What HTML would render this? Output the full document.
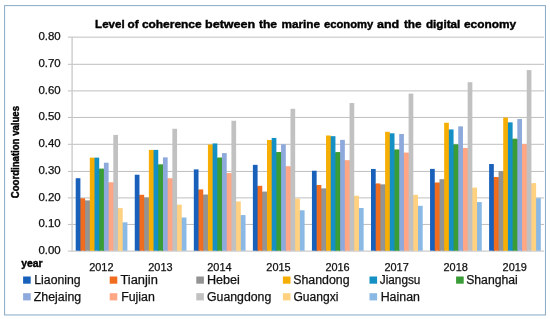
<!DOCTYPE html>
<html lang="en"><head><meta charset="utf-8"><title>Level of coherence between the marine economy and the digital economy</title>
<style>html,body{margin:0;padding:0;background:#fff;}body{width:550px;height:319px;overflow:hidden;}svg{display:block;}text{font-family:"Liberation Sans", sans-serif;fill:#111;stroke:#111;stroke-width:0.25px;}.b{stroke-width:0.4px;fill:#000;stroke:#000}</style></head><body>
<svg width="550" height="319" viewBox="0 0 550 319">
<rect x="0" y="0" width="550" height="319" fill="#fff"/>
<rect x="4.58" y="5.6" width="540.9" height="309.35" fill="#fff" stroke="#8dadc9" stroke-width="1.05"/>
<line x1="67.9" y1="251.10" x2="544.0" y2="251.10" stroke="#bfbfbf" stroke-width="1"/>
<line x1="67.9" y1="224.45" x2="544.0" y2="224.45" stroke="#bfbfbf" stroke-width="1"/>
<line x1="67.9" y1="197.90" x2="544.0" y2="197.90" stroke="#bfbfbf" stroke-width="1"/>
<line x1="67.9" y1="171.45" x2="544.0" y2="171.45" stroke="#bfbfbf" stroke-width="1"/>
<line x1="67.9" y1="144.30" x2="544.0" y2="144.30" stroke="#bfbfbf" stroke-width="1"/>
<line x1="67.9" y1="117.45" x2="544.0" y2="117.45" stroke="#bfbfbf" stroke-width="1"/>
<line x1="67.9" y1="90.90" x2="544.0" y2="90.90" stroke="#bfbfbf" stroke-width="1"/>
<line x1="67.9" y1="64.30" x2="544.0" y2="64.30" stroke="#bfbfbf" stroke-width="1"/>
<line x1="67.9" y1="37.15" x2="544.0" y2="37.15" stroke="#bfbfbf" stroke-width="1"/>
<line x1="72.1" y1="36.8" x2="72.1" y2="251.6" stroke="#cccccc" stroke-width="1.4"/>
<rect x="75.70" y="178.21" width="4.70" height="72.49" fill="#1860ba"/>
<rect x="79.40" y="198.75" width="2.00" height="51.95" fill="#1860ba"/>
<rect x="80.40" y="198.25" width="4.70" height="52.45" fill="#f06c1e"/>
<rect x="84.10" y="200.89" width="2.00" height="49.81" fill="#f06c1e"/>
<rect x="85.10" y="200.39" width="4.70" height="50.31" fill="#939393"/>
<rect x="88.80" y="200.89" width="2.00" height="49.81" fill="#939393"/>
<rect x="89.80" y="157.63" width="4.70" height="93.07" fill="#f6ae04"/>
<rect x="93.50" y="158.13" width="2.00" height="92.57" fill="#f6ae04"/>
<rect x="94.50" y="157.63" width="4.70" height="93.07" fill="#1590c4"/>
<rect x="98.20" y="169.09" width="2.00" height="81.61" fill="#1590c4"/>
<rect x="99.20" y="168.59" width="4.70" height="82.11" fill="#3a9c36"/>
<rect x="102.90" y="169.09" width="2.00" height="81.61" fill="#3a9c36"/>
<rect x="103.90" y="162.71" width="4.70" height="87.99" fill="#8ea9db"/>
<rect x="107.60" y="182.72" width="2.00" height="67.98" fill="#8ea9db"/>
<rect x="108.60" y="182.22" width="4.70" height="68.48" fill="#ffa685"/>
<rect x="112.30" y="182.72" width="2.00" height="67.98" fill="#ffa685"/>
<rect x="113.30" y="134.91" width="4.70" height="115.79" fill="#c1c1c1"/>
<rect x="117.00" y="208.64" width="2.00" height="42.06" fill="#c1c1c1"/>
<rect x="118.00" y="208.14" width="4.70" height="42.56" fill="#ffd180"/>
<rect x="121.70" y="222.80" width="2.00" height="27.90" fill="#ffd180"/>
<rect x="122.70" y="222.30" width="4.70" height="28.40" fill="#89b9e4"/>
<rect x="134.76" y="174.73" width="4.70" height="75.97" fill="#1860ba"/>
<rect x="138.46" y="195.28" width="2.00" height="55.42" fill="#1860ba"/>
<rect x="139.46" y="194.78" width="4.70" height="55.92" fill="#f06c1e"/>
<rect x="143.16" y="197.95" width="2.00" height="52.75" fill="#f06c1e"/>
<rect x="144.16" y="197.45" width="4.70" height="53.25" fill="#939393"/>
<rect x="147.86" y="197.95" width="2.00" height="52.75" fill="#939393"/>
<rect x="148.86" y="149.88" width="4.70" height="100.82" fill="#f6ae04"/>
<rect x="152.56" y="150.38" width="2.00" height="100.32" fill="#f6ae04"/>
<rect x="153.56" y="149.88" width="4.70" height="100.82" fill="#1590c4"/>
<rect x="157.26" y="164.81" width="2.00" height="85.89" fill="#1590c4"/>
<rect x="158.26" y="164.31" width="4.70" height="86.39" fill="#3a9c36"/>
<rect x="161.96" y="164.81" width="2.00" height="85.89" fill="#3a9c36"/>
<rect x="162.96" y="157.36" width="4.70" height="93.34" fill="#8ea9db"/>
<rect x="166.66" y="178.71" width="2.00" height="71.99" fill="#8ea9db"/>
<rect x="167.66" y="178.21" width="4.70" height="72.49" fill="#ffa685"/>
<rect x="171.36" y="178.71" width="2.00" height="71.99" fill="#ffa685"/>
<rect x="172.36" y="128.77" width="4.70" height="121.93" fill="#c1c1c1"/>
<rect x="176.06" y="205.17" width="2.00" height="45.53" fill="#c1c1c1"/>
<rect x="177.06" y="204.67" width="4.70" height="46.03" fill="#ffd180"/>
<rect x="180.76" y="217.99" width="2.00" height="32.71" fill="#ffd180"/>
<rect x="181.76" y="217.49" width="4.70" height="33.21" fill="#89b9e4"/>
<rect x="193.82" y="169.39" width="4.70" height="81.31" fill="#1860ba"/>
<rect x="197.52" y="189.93" width="2.00" height="60.77" fill="#1860ba"/>
<rect x="198.52" y="189.43" width="4.70" height="61.27" fill="#f06c1e"/>
<rect x="202.22" y="195.01" width="2.00" height="55.69" fill="#f06c1e"/>
<rect x="203.22" y="194.51" width="4.70" height="56.19" fill="#939393"/>
<rect x="206.92" y="195.01" width="2.00" height="55.69" fill="#939393"/>
<rect x="207.92" y="144.53" width="4.70" height="106.17" fill="#f6ae04"/>
<rect x="211.62" y="145.03" width="2.00" height="105.67" fill="#f6ae04"/>
<rect x="212.62" y="143.47" width="4.70" height="107.23" fill="#1590c4"/>
<rect x="216.32" y="158.00" width="2.00" height="92.70" fill="#1590c4"/>
<rect x="217.32" y="157.50" width="4.70" height="93.20" fill="#3a9c36"/>
<rect x="221.02" y="158.00" width="2.00" height="92.70" fill="#3a9c36"/>
<rect x="222.02" y="153.09" width="4.70" height="97.61" fill="#8ea9db"/>
<rect x="225.72" y="173.50" width="2.00" height="77.20" fill="#8ea9db"/>
<rect x="226.72" y="173.00" width="4.70" height="77.70" fill="#ffa685"/>
<rect x="230.42" y="173.50" width="2.00" height="77.20" fill="#ffa685"/>
<rect x="231.42" y="120.75" width="4.70" height="129.95" fill="#c1c1c1"/>
<rect x="235.12" y="201.96" width="2.00" height="48.74" fill="#c1c1c1"/>
<rect x="236.12" y="201.46" width="4.70" height="49.24" fill="#ffd180"/>
<rect x="239.82" y="215.59" width="2.00" height="35.11" fill="#ffd180"/>
<rect x="240.82" y="215.09" width="4.70" height="35.61" fill="#89b9e4"/>
<rect x="252.88" y="164.85" width="4.70" height="85.85" fill="#1860ba"/>
<rect x="256.58" y="186.30" width="2.00" height="64.40" fill="#1860ba"/>
<rect x="257.58" y="185.80" width="4.70" height="64.90" fill="#f06c1e"/>
<rect x="261.28" y="192.07" width="2.00" height="58.63" fill="#f06c1e"/>
<rect x="262.28" y="191.57" width="4.70" height="59.13" fill="#939393"/>
<rect x="265.98" y="192.07" width="2.00" height="58.63" fill="#939393"/>
<rect x="266.98" y="139.99" width="4.70" height="110.71" fill="#f6ae04"/>
<rect x="270.68" y="140.49" width="2.00" height="110.21" fill="#f6ae04"/>
<rect x="271.68" y="137.93" width="4.70" height="112.77" fill="#1590c4"/>
<rect x="275.38" y="152.52" width="2.00" height="98.18" fill="#1590c4"/>
<rect x="276.38" y="152.02" width="4.70" height="98.68" fill="#3a9c36"/>
<rect x="280.08" y="152.52" width="2.00" height="98.18" fill="#3a9c36"/>
<rect x="281.08" y="144.27" width="4.70" height="106.43" fill="#8ea9db"/>
<rect x="284.78" y="166.68" width="2.00" height="84.02" fill="#8ea9db"/>
<rect x="285.78" y="166.18" width="4.70" height="84.52" fill="#ffa685"/>
<rect x="289.48" y="166.68" width="2.00" height="84.02" fill="#ffa685"/>
<rect x="290.48" y="108.80" width="4.70" height="141.90" fill="#c1c1c1"/>
<rect x="294.18" y="199.02" width="2.00" height="51.68" fill="#c1c1c1"/>
<rect x="295.18" y="198.52" width="4.70" height="52.18" fill="#ffd180"/>
<rect x="298.88" y="210.78" width="2.00" height="39.92" fill="#ffd180"/>
<rect x="299.88" y="210.28" width="4.70" height="40.42" fill="#89b9e4"/>
<rect x="311.94" y="170.73" width="4.70" height="79.97" fill="#1860ba"/>
<rect x="315.64" y="185.50" width="2.00" height="65.20" fill="#1860ba"/>
<rect x="316.64" y="185.00" width="4.70" height="65.70" fill="#f06c1e"/>
<rect x="320.34" y="188.86" width="2.00" height="61.84" fill="#f06c1e"/>
<rect x="321.34" y="188.36" width="4.70" height="62.34" fill="#939393"/>
<rect x="325.04" y="188.86" width="2.00" height="61.84" fill="#939393"/>
<rect x="326.04" y="135.50" width="4.70" height="115.20" fill="#f6ae04"/>
<rect x="329.74" y="136.67" width="2.00" height="114.03" fill="#f6ae04"/>
<rect x="330.74" y="136.17" width="4.70" height="114.53" fill="#1590c4"/>
<rect x="334.44" y="152.57" width="2.00" height="98.13" fill="#1590c4"/>
<rect x="335.44" y="152.07" width="4.70" height="98.63" fill="#3a9c36"/>
<rect x="339.14" y="152.57" width="2.00" height="98.13" fill="#3a9c36"/>
<rect x="340.14" y="139.88" width="4.70" height="110.82" fill="#8ea9db"/>
<rect x="343.84" y="160.67" width="2.00" height="90.03" fill="#8ea9db"/>
<rect x="344.84" y="160.17" width="4.70" height="90.53" fill="#ffa685"/>
<rect x="348.54" y="160.67" width="2.00" height="90.03" fill="#ffa685"/>
<rect x="349.54" y="103.03" width="4.70" height="147.67" fill="#c1c1c1"/>
<rect x="353.24" y="196.21" width="2.00" height="54.49" fill="#c1c1c1"/>
<rect x="354.24" y="195.71" width="4.70" height="54.99" fill="#ffd180"/>
<rect x="357.94" y="208.53" width="2.00" height="42.17" fill="#ffd180"/>
<rect x="358.94" y="208.03" width="4.70" height="42.67" fill="#89b9e4"/>
<rect x="371.00" y="168.96" width="4.70" height="81.74" fill="#1860ba"/>
<rect x="374.70" y="183.92" width="2.00" height="66.78" fill="#1860ba"/>
<rect x="375.70" y="183.42" width="4.70" height="67.28" fill="#f06c1e"/>
<rect x="379.40" y="184.85" width="2.00" height="65.85" fill="#f06c1e"/>
<rect x="380.40" y="184.35" width="4.70" height="66.35" fill="#939393"/>
<rect x="384.10" y="184.85" width="2.00" height="65.85" fill="#939393"/>
<rect x="385.10" y="131.79" width="4.70" height="118.91" fill="#f6ae04"/>
<rect x="388.80" y="133.81" width="2.00" height="116.89" fill="#f6ae04"/>
<rect x="389.80" y="133.31" width="4.70" height="117.39" fill="#1590c4"/>
<rect x="393.50" y="149.93" width="2.00" height="100.77" fill="#1590c4"/>
<rect x="394.50" y="149.43" width="4.70" height="101.27" fill="#3a9c36"/>
<rect x="398.20" y="149.93" width="2.00" height="100.77" fill="#3a9c36"/>
<rect x="399.20" y="133.98" width="4.70" height="116.72" fill="#8ea9db"/>
<rect x="402.90" y="153.05" width="2.00" height="97.65" fill="#8ea9db"/>
<rect x="403.90" y="152.55" width="4.70" height="98.15" fill="#ffa685"/>
<rect x="407.60" y="153.05" width="2.00" height="97.65" fill="#ffa685"/>
<rect x="408.60" y="93.60" width="4.70" height="157.10" fill="#c1c1c1"/>
<rect x="412.30" y="195.36" width="2.00" height="55.34" fill="#c1c1c1"/>
<rect x="413.30" y="194.86" width="4.70" height="55.84" fill="#ffd180"/>
<rect x="417.00" y="206.34" width="2.00" height="44.36" fill="#ffd180"/>
<rect x="418.00" y="205.84" width="4.70" height="44.86" fill="#89b9e4"/>
<rect x="430.06" y="168.88" width="4.70" height="81.82" fill="#1860ba"/>
<rect x="433.76" y="182.98" width="2.00" height="67.72" fill="#1860ba"/>
<rect x="434.76" y="182.48" width="4.70" height="68.22" fill="#f06c1e"/>
<rect x="438.46" y="182.98" width="2.00" height="67.72" fill="#f06c1e"/>
<rect x="439.46" y="179.20" width="4.70" height="71.50" fill="#939393"/>
<rect x="443.16" y="179.70" width="2.00" height="71.00" fill="#939393"/>
<rect x="444.16" y="122.78" width="4.70" height="127.92" fill="#f6ae04"/>
<rect x="447.86" y="129.93" width="2.00" height="120.77" fill="#f6ae04"/>
<rect x="448.86" y="129.43" width="4.70" height="121.27" fill="#1590c4"/>
<rect x="452.56" y="144.79" width="2.00" height="105.91" fill="#1590c4"/>
<rect x="453.56" y="144.29" width="4.70" height="106.41" fill="#3a9c36"/>
<rect x="457.26" y="144.79" width="2.00" height="105.91" fill="#3a9c36"/>
<rect x="458.26" y="126.36" width="4.70" height="124.34" fill="#8ea9db"/>
<rect x="461.96" y="148.51" width="2.00" height="102.19" fill="#8ea9db"/>
<rect x="462.96" y="148.01" width="4.70" height="102.69" fill="#ffa685"/>
<rect x="466.66" y="148.51" width="2.00" height="102.19" fill="#ffa685"/>
<rect x="467.66" y="82.19" width="4.70" height="168.51" fill="#c1c1c1"/>
<rect x="471.36" y="188.06" width="2.00" height="62.64" fill="#c1c1c1"/>
<rect x="472.36" y="187.56" width="4.70" height="63.14" fill="#ffd180"/>
<rect x="476.06" y="202.60" width="2.00" height="48.10" fill="#ffd180"/>
<rect x="477.06" y="202.10" width="4.70" height="48.60" fill="#89b9e4"/>
<rect x="489.12" y="164.04" width="4.70" height="86.66" fill="#1860ba"/>
<rect x="492.82" y="177.51" width="2.00" height="73.19" fill="#1860ba"/>
<rect x="493.82" y="177.01" width="4.70" height="73.69" fill="#f06c1e"/>
<rect x="497.52" y="177.51" width="2.00" height="73.19" fill="#f06c1e"/>
<rect x="498.52" y="171.07" width="4.70" height="79.63" fill="#939393"/>
<rect x="502.22" y="171.57" width="2.00" height="79.13" fill="#939393"/>
<rect x="503.22" y="117.54" width="4.70" height="133.16" fill="#f6ae04"/>
<rect x="506.92" y="122.85" width="2.00" height="127.85" fill="#f6ae04"/>
<rect x="507.92" y="122.35" width="4.70" height="128.35" fill="#1590c4"/>
<rect x="511.62" y="139.16" width="2.00" height="111.54" fill="#1590c4"/>
<rect x="512.62" y="138.66" width="4.70" height="112.04" fill="#3a9c36"/>
<rect x="516.32" y="139.16" width="2.00" height="111.54" fill="#3a9c36"/>
<rect x="517.32" y="119.04" width="4.70" height="131.66" fill="#8ea9db"/>
<rect x="521.02" y="144.58" width="2.00" height="106.12" fill="#8ea9db"/>
<rect x="522.02" y="144.08" width="4.70" height="106.62" fill="#ffa685"/>
<rect x="525.72" y="144.58" width="2.00" height="106.12" fill="#ffa685"/>
<rect x="526.72" y="70.11" width="4.70" height="180.59" fill="#c1c1c1"/>
<rect x="530.42" y="183.63" width="2.00" height="67.07" fill="#c1c1c1"/>
<rect x="531.42" y="183.13" width="4.70" height="67.57" fill="#ffd180"/>
<rect x="535.12" y="198.67" width="2.00" height="52.03" fill="#ffd180"/>
<rect x="536.12" y="198.17" width="4.70" height="52.53" fill="#89b9e4"/>
<text x="60.7" y="254.00" font-size="10.6" text-anchor="end" textLength="22.3" lengthAdjust="spacingAndGlyphs">0.00</text>
<text x="60.7" y="227.35" font-size="10.6" text-anchor="end" textLength="22.3" lengthAdjust="spacingAndGlyphs">0.10</text>
<text x="60.7" y="200.80" font-size="10.6" text-anchor="end" textLength="22.3" lengthAdjust="spacingAndGlyphs">0.20</text>
<text x="60.7" y="174.35" font-size="10.6" text-anchor="end" textLength="22.3" lengthAdjust="spacingAndGlyphs">0.30</text>
<text x="60.7" y="147.20" font-size="10.6" text-anchor="end" textLength="22.3" lengthAdjust="spacingAndGlyphs">0.40</text>
<text x="60.7" y="120.35" font-size="10.6" text-anchor="end" textLength="22.3" lengthAdjust="spacingAndGlyphs">0.50</text>
<text x="60.7" y="93.80" font-size="10.6" text-anchor="end" textLength="22.3" lengthAdjust="spacingAndGlyphs">0.60</text>
<text x="60.7" y="67.20" font-size="10.6" text-anchor="end" textLength="22.3" lengthAdjust="spacingAndGlyphs">0.70</text>
<text x="60.7" y="40.05" font-size="10.6" text-anchor="end" textLength="22.3" lengthAdjust="spacingAndGlyphs">0.80</text>
<text x="101.33" y="270.9" font-size="10.6" text-anchor="middle" textLength="24.3" lengthAdjust="spacingAndGlyphs">2012</text>
<text x="160.39" y="270.9" font-size="10.6" text-anchor="middle" textLength="24.3" lengthAdjust="spacingAndGlyphs">2013</text>
<text x="219.45" y="270.9" font-size="10.6" text-anchor="middle" textLength="24.3" lengthAdjust="spacingAndGlyphs">2014</text>
<text x="278.51" y="270.9" font-size="10.6" text-anchor="middle" textLength="24.3" lengthAdjust="spacingAndGlyphs">2015</text>
<text x="337.57" y="270.9" font-size="10.6" text-anchor="middle" textLength="24.3" lengthAdjust="spacingAndGlyphs">2016</text>
<text x="396.63" y="270.9" font-size="10.6" text-anchor="middle" textLength="24.3" lengthAdjust="spacingAndGlyphs">2017</text>
<text x="455.69" y="270.9" font-size="10.6" text-anchor="middle" textLength="24.3" lengthAdjust="spacingAndGlyphs">2018</text>
<text x="514.75" y="270.9" font-size="10.6" text-anchor="middle" textLength="24.3" lengthAdjust="spacingAndGlyphs">2019</text>
<text x="95.1" y="27.5" font-size="11.2" font-weight="bold" class="b" textLength="29.5" lengthAdjust="spacingAndGlyphs">Level</text>
<text x="127.5" y="27.5" font-size="11.2" font-weight="bold" class="b" textLength="11.1" lengthAdjust="spacingAndGlyphs">of</text>
<text x="141.9" y="27.5" font-size="11.2" font-weight="bold" class="b" textLength="59.7" lengthAdjust="spacingAndGlyphs">coherence</text>
<text x="205.0" y="27.5" font-size="11.2" font-weight="bold" class="b" textLength="50.2" lengthAdjust="spacingAndGlyphs">between</text>
<text x="258.9" y="27.5" font-size="11.2" font-weight="bold" class="b" textLength="18.1" lengthAdjust="spacingAndGlyphs">the</text>
<text x="281.5" y="27.5" font-size="11.2" font-weight="bold" class="b" textLength="38.5" lengthAdjust="spacingAndGlyphs">marine</text>
<text x="323.9" y="27.5" font-size="11.2" font-weight="bold" class="b" textLength="49.5" lengthAdjust="spacingAndGlyphs">economy</text>
<text x="377.0" y="27.5" font-size="11.2" font-weight="bold" class="b" textLength="22.2" lengthAdjust="spacingAndGlyphs">and</text>
<text x="403.9" y="27.5" font-size="11.2" font-weight="bold" class="b" textLength="17.7" lengthAdjust="spacingAndGlyphs">the</text>
<text x="425.9" y="27.5" font-size="11.2" font-weight="bold" class="b" textLength="34.4" lengthAdjust="spacingAndGlyphs">digital</text>
<text x="464.0" y="27.5" font-size="11.2" font-weight="bold" class="b" textLength="52.2" lengthAdjust="spacingAndGlyphs">economy</text>
<text transform="translate(18.7,198.2) rotate(-90)" font-size="10" font-weight="bold" class="b" textLength="92.2" lengthAdjust="spacingAndGlyphs">Coordination values</text>
<text x="21.2" y="267.4" font-size="11" font-weight="bold" class="b" textLength="21.5" lengthAdjust="spacingAndGlyphs">year</text>
<rect x="23.1" y="276.5" width="7.6" height="7.2" fill="#1860ba"/>
<text x="34.30" y="283.9" font-size="12" textLength="46.40" lengthAdjust="spacingAndGlyphs">Liaoning</text>
<rect x="109.7" y="276.5" width="7.6" height="7.2" fill="#f06c1e"/>
<text x="120.40" y="283.9" font-size="12" textLength="37.50" lengthAdjust="spacingAndGlyphs">Tianjin</text>
<rect x="196.3" y="276.5" width="7.6" height="7.2" fill="#939393"/>
<text x="206.90" y="283.9" font-size="12" textLength="33.00" lengthAdjust="spacingAndGlyphs">Hebei</text>
<rect x="282.9" y="276.5" width="7.6" height="7.2" fill="#f6ae04"/>
<text x="293.20" y="283.9" font-size="12" textLength="56.40" lengthAdjust="spacingAndGlyphs">Shandong</text>
<rect x="369.5" y="276.5" width="7.6" height="7.2" fill="#1590c4"/>
<text x="379.80" y="283.9" font-size="12" textLength="40.60" lengthAdjust="spacingAndGlyphs">Jiangsu</text>
<rect x="456.1" y="276.5" width="7.6" height="7.2" fill="#3a9c36"/>
<text x="466.20" y="283.9" font-size="12" textLength="51.60" lengthAdjust="spacingAndGlyphs">Shanghai</text>
<rect x="23.1" y="293.2" width="7.6" height="7.2" fill="#8ea9db"/>
<text x="33.80" y="300.6" font-size="12" textLength="47.40" lengthAdjust="spacingAndGlyphs">Zhejaing</text>
<rect x="109.7" y="293.2" width="7.6" height="7.2" fill="#ffa685"/>
<text x="121.20" y="300.6" font-size="12" textLength="33.70" lengthAdjust="spacingAndGlyphs">Fujian</text>
<rect x="196.3" y="293.2" width="7.6" height="7.2" fill="#c1c1c1"/>
<text x="207.05" y="300.6" font-size="12" textLength="64.25" lengthAdjust="spacingAndGlyphs">Guangdong</text>
<rect x="282.9" y="293.2" width="7.6" height="7.2" fill="#ffd180"/>
<text x="293.40" y="300.6" font-size="12" textLength="45.00" lengthAdjust="spacingAndGlyphs">Guangxi</text>
<rect x="369.5" y="293.2" width="7.6" height="7.2" fill="#89b9e4"/>
<text x="380.70" y="300.6" font-size="12" textLength="39.20" lengthAdjust="spacingAndGlyphs">Hainan</text>
</svg></body></html>
